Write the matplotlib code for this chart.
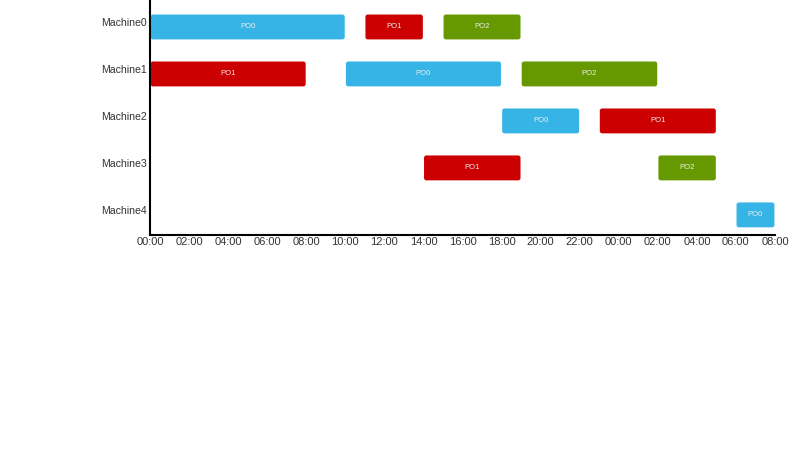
import matplotlib.pyplot as plt
from matplotlib.patches import FancyBboxPatch

machines = ["Machine0", "Machine1", "Machine2", "Machine3", "Machine4"]
# (machine index, order, start hour, end hour) - hours counted from 00:00 day 1
tasks = [
    (0, "PO0", 0, 10), (0, "PO1", 11, 14), (0, "PO2", 15, 19),
    (1, "PO1", 0, 8), (1, "PO0", 10, 18), (1, "PO2", 19, 26),
    (2, "PO0", 18, 22), (2, "PO1", 23, 29),
    (3, "PO1", 14, 19), (3, "PO2", 26, 29),
    (4, "PO0", 30, 32),
]
colors = {"PO0": "#36b4e5", "PO1": "#cc0000", "PO2": "#669900"}
tick_hours = list(range(0, 33, 2))
tick_labels = ["%02d:00" % (h % 24) for h in tick_hours]

plt.rcParams['font.family'] = ['Liberation Sans', 'DejaVu Sans']
fig = plt.figure(figsize=(8, 4.5), dpi=100)
ax = fig.add_axes([0.1875, 0.478, 0.78125, 0.522])

bar_h = 0.53
for m, po, s, e in tasks:
    box = FancyBboxPatch((s + 0.03, m - bar_h / 2), e - s - 0.06, bar_h,
                         boxstyle="round,pad=0,rounding_size=0.12",
                         mutation_aspect=0.42, fc=colors[po], ec="none")
    ax.add_patch(box)
    ax.text((s + e) / 2, m, po, ha="center", va="center", fontsize=5.5, color="#eeeeee")

ax.set_xlim(0, 32)
ax.set_ylim(4.426, -0.574)
ax.set_xticks(tick_hours)
ax.set_xticklabels(tick_labels, fontsize=8)
ax.set_yticks([i - 0.1 for i in range(len(machines))])
ax.set_yticklabels(machines, fontsize=7.6)
ax.tick_params(length=0, labelcolor="#333333")
ax.tick_params(axis="x", pad=1.5)
ax.tick_params(axis="y", pad=2.5)
ax.spines["top"].set_visible(False)
ax.spines["right"].set_visible(False)
ax.spines["left"].set_linewidth(1.5)
ax.spines["bottom"].set_linewidth(1.5)

fig.savefig("out.png", dpi=100)
